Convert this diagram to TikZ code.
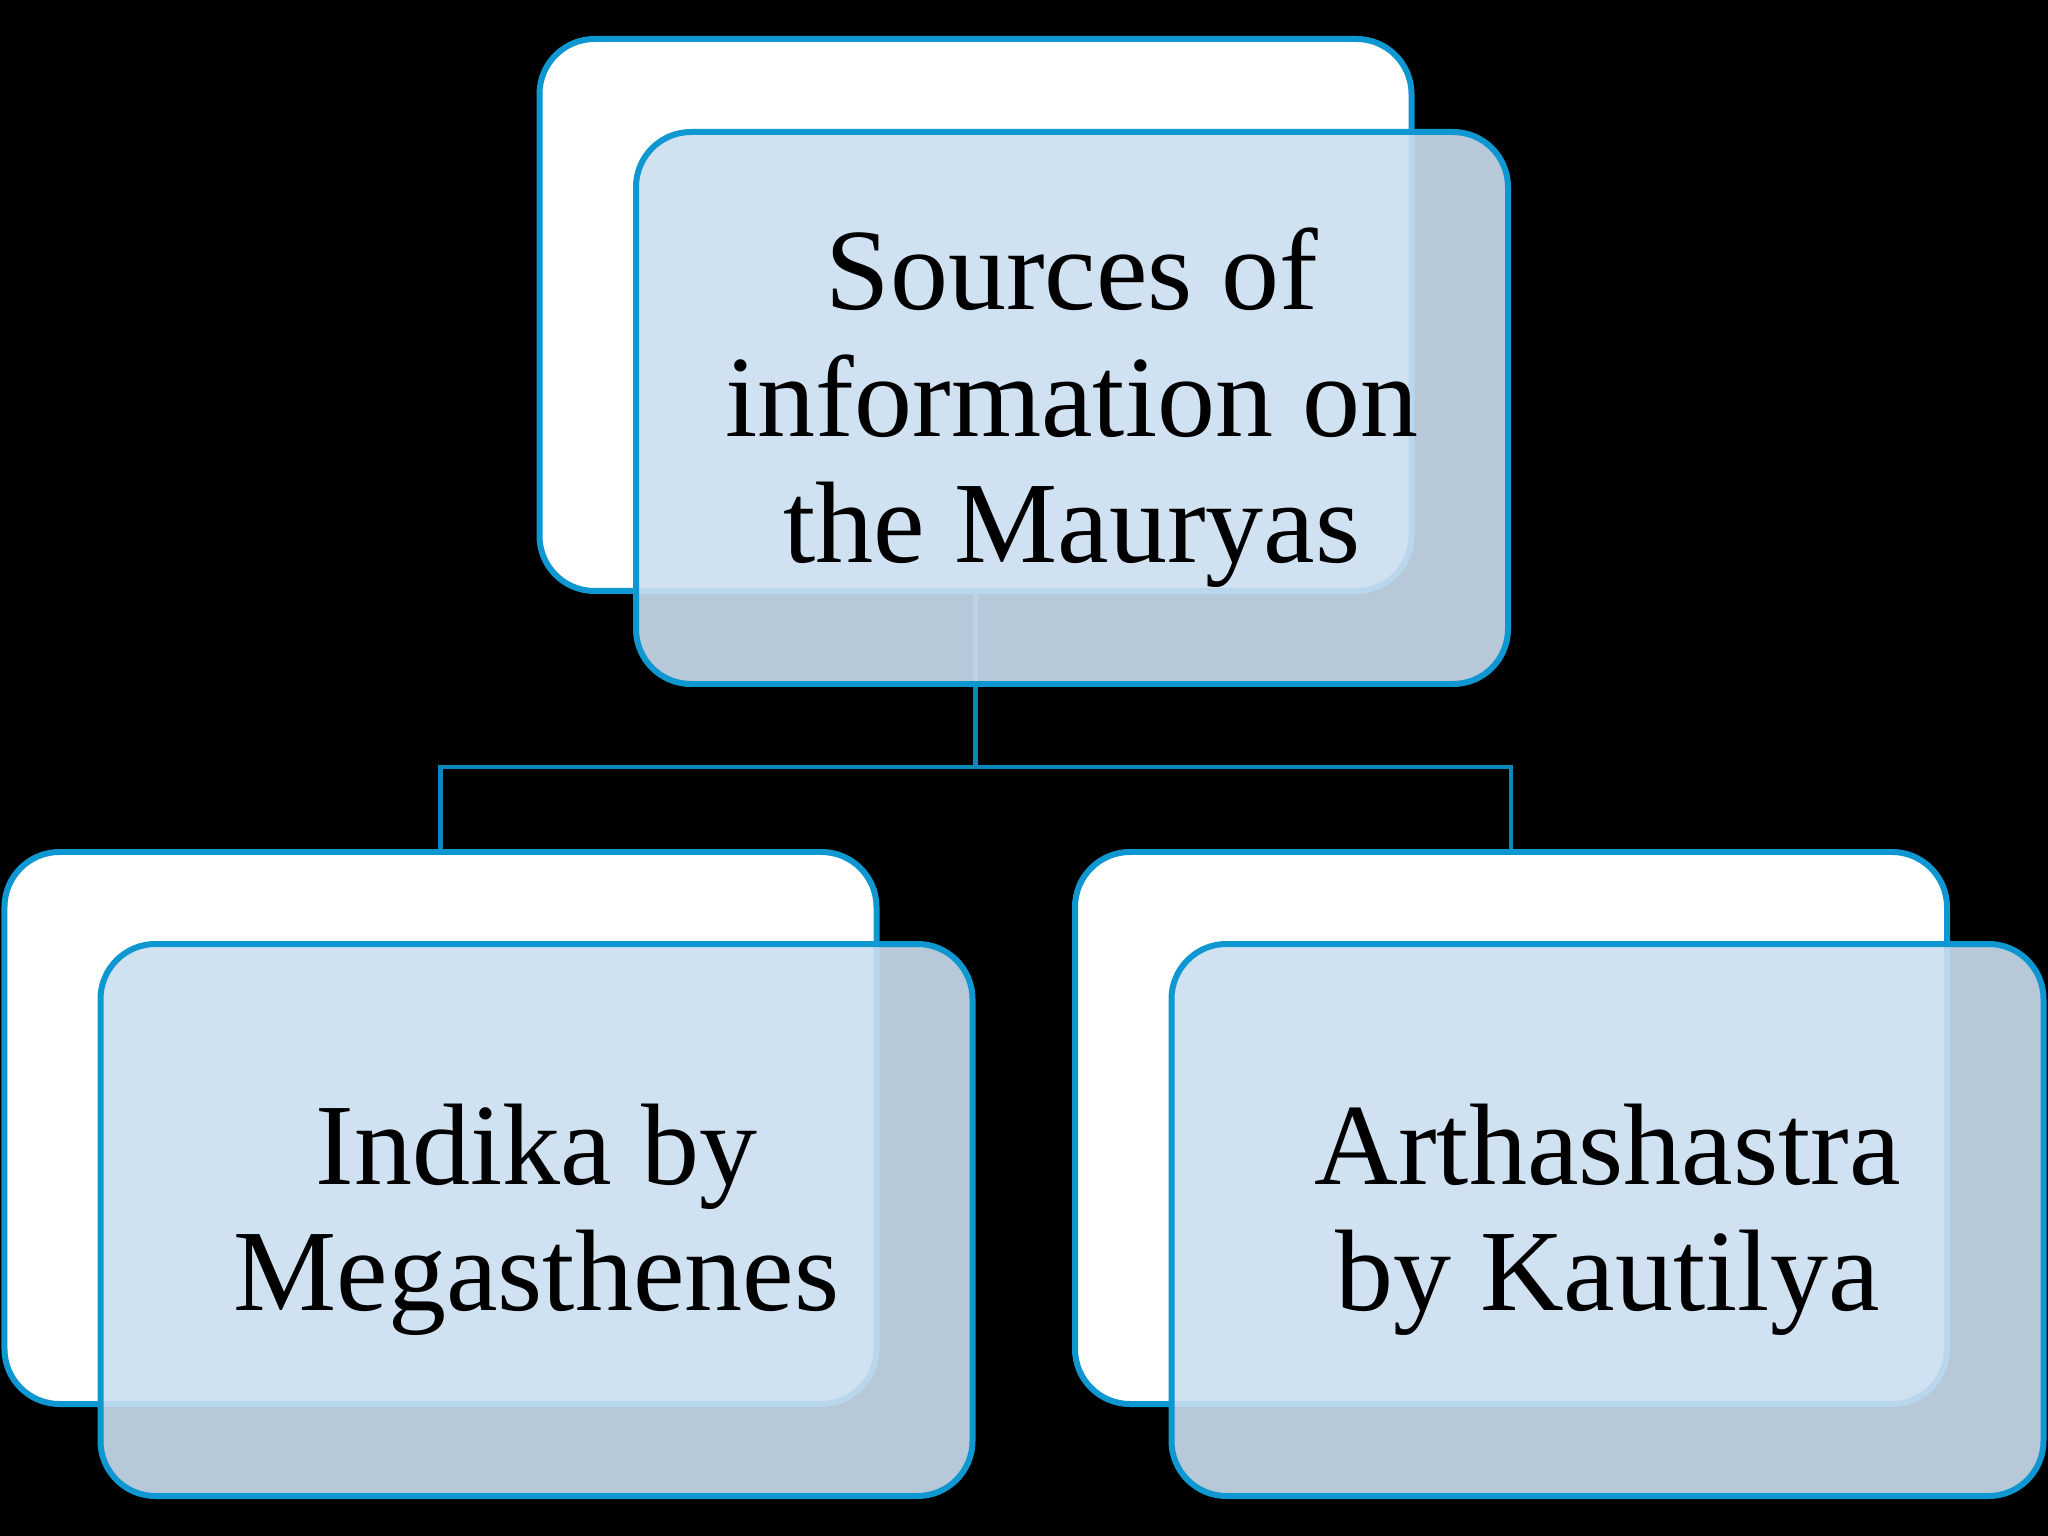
\documentclass[tikz,border=0pt]{standalone}
\usepackage{fontspec}
\setmainfont{Liberation Serif}
\usepackage{tikz}
\usepackage{xcolor}
\usetikzlibrary{positioning,
	calc}

\definecolor{boxblue}{RGB}{14,151,209}
\definecolor{linkblue}{RGB}{10,135,190}
\definecolor{boxfill}{RGB}{203,222,241}

\begin{document}
\begin{tikzpicture}[scale=1, transform shape,
	backbox/.style={draw=boxblue, line width=0.06cm, fill=white, rounded corners=0.55cm, minimum width=8.72cm, minimum height=5.52cm},
	frontbox/.style={backbox, fill=boxfill, fill opacity=0.9, text opacity=1, align=center, font=\fontsize{33}{36}\selectfont},
	link/.style={draw=linkblue, line width=0.045cm}]
                            \fill[black] (0,0) rectangle (20.48,-15.36);
                            \useasboundingbox (0,0) rectangle (20.48,-15.36);
                            \node (sourcesback) [backbox] at (9.755,-3.15) {};
                            \node (indikaback) [backbox] at (4.405,-11.28) {};
                            \node (arthaback) [backbox] at (15.11,-11.28) {};
                            \coordinate (fork) at (9.755,-7.67);
                            \draw[link] (sourcesback.south) -- (fork);
                            \draw[link] (fork) -| (indikaback.north);
                            \draw[link] (fork) -| (arthaback.north);
                            \node (sources) [frontbox] at (10.72,-4.08) {Sources of\\information on\\the Mauryas};
                            \node (indika) [frontbox] at (5.365,-12.20) {Indika by\\Megasthenes};
                            \node (artha) [frontbox] at (16.075,-12.20) {Arthashastra\\by Kautilya};
                        \end{tikzpicture}
\end{document}
